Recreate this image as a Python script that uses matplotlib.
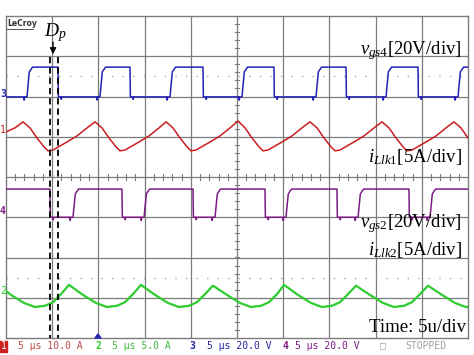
import numpy as np
import matplotlib.pyplot as plt
from matplotlib.patches import Rectangle, Polygon
from matplotlib.lines import Line2D

plt.rcParams['font.family'] = ['Liberation Serif', 'DejaVu Sans']
plt.rcParams['mathtext.fontset'] = 'custom'
plt.rcParams['mathtext.rm'] = 'Liberation Serif'
plt.rcParams['mathtext.it'] = 'Liberation Serif:italic'

W, H = 474, 355

# time in us (5 us/div), amplitude in screen divisions
# ch3: v_gs4 (blue)
vgs4_rise = [2.27, 10.17, 17.75, 25.54, 33.55, 41.13, 48.92]
vgs4_fall = [5.63, 13.42, 21.32, 29.00, 36.80, 44.59]
vgs4_low, vgs4_high = 1.99, 2.73

# ch4: v_gs2 (purple)
vgs2_fall = [4.76, 12.55, 20.24, 28.03, 35.82, 43.61]
vgs2_rise = [7.25, 14.94, 22.62, 30.30, 38.10, 45.89]
vgs2_low, vgs2_high = -1.00, -0.30

# ch1: i_Llk1 (red)
ilk1_t = [0.0, 0.97, 1.84,
          2.60, 3.35, 4.11, 4.55, 5.09, 5.84, 6.60, 7.68, 8.77, 9.63,
          10.39, 11.15, 11.90, 12.34, 12.88, 13.64, 14.39, 15.48, 16.56, 17.32,
          18.07, 18.83, 19.59, 20.02, 20.56, 21.32, 22.08, 23.16, 24.24, 25.11,
          25.87, 26.62, 27.38, 27.81, 28.35, 29.11, 29.87, 30.95, 32.03, 32.90,
          33.66, 34.42, 35.17, 35.61, 36.15, 36.90, 37.66, 38.74, 39.83, 40.69,
          41.45, 42.21, 42.97, 43.40, 43.94, 44.70, 45.45, 46.54, 47.62, 48.48,
          49.24, 50.0]
ilk1_v = [1.12, 1.22, 1.37,
          1.22, 0.97, 0.75, 0.65, 0.67, 0.77, 0.87, 1.02, 1.22, 1.37,
          1.22, 0.97, 0.75, 0.65, 0.67, 0.77, 0.87, 1.02, 1.22, 1.37,
          1.22, 0.97, 0.75, 0.65, 0.67, 0.77, 0.87, 1.02, 1.22, 1.39,
          1.22, 0.97, 0.75, 0.65, 0.67, 0.77, 0.87, 1.02, 1.22, 1.37,
          1.22, 0.97, 0.75, 0.65, 0.67, 0.77, 0.87, 1.02, 1.22, 1.37,
          1.22, 0.97, 0.75, 0.65, 0.67, 0.77, 0.87, 1.02, 1.22, 1.37,
          1.22, 0.97]

# ch2: i_Llk2 (green)
ilk2_t = [0.0, 0.54, 1.95, 3.14, 4.22, 5.09, 5.95, 6.82,
          8.33, 9.74, 10.93, 12.01, 12.88, 13.74, 14.61,
          16.13, 17.53, 18.72, 19.81, 20.67, 21.54, 22.40,
          23.92, 25.32, 26.52, 27.60, 28.46, 29.33, 30.09,
          31.60, 33.01, 34.20, 35.28, 36.15, 37.01, 37.88,
          39.39, 40.80, 41.99, 43.07, 43.94, 44.81, 45.67,
          47.19, 48.59, 49.78, 50.0]
ilk2_v = [-2.83, -2.93, -3.13, -3.23, -3.20, -3.11, -2.91, -2.68,
          -2.93, -3.13, -3.23, -3.20, -3.11, -2.91, -2.68,
          -2.93, -3.13, -3.23, -3.20, -3.11, -2.91, -2.70,
          -2.93, -3.13, -3.23, -3.20, -3.11, -2.91, -2.68,
          -2.93, -3.13, -3.23, -3.20, -3.11, -2.91, -2.70,
          -2.93, -3.13, -3.23, -3.20, -3.11, -2.91, -2.70,
          -2.93, -3.13, -3.23, -3.23]

dp_left, dp_right = 4.76, 5.63


def gate(rises, falls, low, high, start_high):
    ev = sorted([(t, 1) for t in rises] + [(t, 0) for t in falls])
    level = high if start_high else low
    xs, ys = [0.0], [level]
    for t, up in ev:
        if up:
            xs += [t - 0.35, t - 0.3, t - 0.25, t, t + 0.25, t + 0.6]
            ys += [low, low - 0.08, low, low, high - 0.12, high]
            level = high
        else:
            xs += [t, t + 0.04, t + 0.3, t + 0.35, t + 0.4]
            ys += [high, low, low, low - 0.06, low]
            level = low
    xs.append(50.0)
    ys.append(level)
    return xs, ys


def fx(px):
    return px / W


def fy(py):
    return 1 - py / H


fig = plt.figure(figsize=(W / 100, H / 100), dpi=100)
ax = fig.add_axes([6 / W, 17 / H, 462 / W, 322 / H])
ax.set_xlim(0, 50)
ax.set_ylim(-4, 4)
ax.set_xticks([])
ax.set_yticks([])
gc = '#7c7c7c'
for s in ax.spines.values():
    s.set_color(gc)
    s.set_linewidth(1)

for x in np.arange(5, 50, 5):
    ax.axvline(x, color=gc, lw=0.9, zorder=1)
for y in np.arange(-3, 4, 1):
    ax.axhline(y, color=gc, lw=0.9, zorder=1)
for y in [2.5, -2.5]:
    ax.axhline(y, color='#a8a8a8', lw=1, ls=(0, (1, 6.6)), zorder=1)

# minor ticks on the centre lines
for t in np.arange(1, 50, 1):
    ax.plot([t, t], [-0.065, 0.065], color=gc, lw=0.8, zorder=1)
for v in np.arange(-3.8, 4, 0.2):
    ax.plot([24.73, 25.27], [v, v], color=gc, lw=0.8, zorder=1)

bx, by = gate(vgs4_rise, vgs4_fall, vgs4_low, vgs4_high, False)
ax.plot(bx, by, color='#2222b8', lw=1.1, zorder=3)
ax.plot(ilk1_t, ilk1_v, color='#cc1e1e', lw=1.1, zorder=3)
px_, py_ = gate(vgs2_rise, vgs2_fall, vgs2_low, vgs2_high, True)
ax.plot(px_, py_, color='#7c1c84', lw=1.1, zorder=3)
ax.plot(ilk2_t, ilk2_v, color='#2ecc2e', lw=1.6, zorder=3)

for t in [dp_left, dp_right]:
    ax.plot([t, t], [2.98, -4], color='k', lw=1.3, ls=(0, (3.5, 2.2)), zorder=4)
ax.annotate('', xy=(5.09, 2.98), xytext=(5.09, 3.42),
            arrowprops=dict(arrowstyle='-|>', color='k', lw=1, mutation_scale=9),
            zorder=5)

# annotations
fig.text(fx(44), fy(36), r'$D_p$', fontsize=14, ha='left', va='baseline')
fig.text(fx(462), fy(54), r'$v_{gs4}$[20V/div]', fontsize=13.5, ha='right', va='baseline')
fig.text(fx(462), fy(162), r'$i_{Llk1}$[5A/div]', fontsize=13.5, ha='right', va='baseline')
fig.text(fx(462), fy(227), r'$v_{gs2}$[20V/div]', fontsize=13.5, ha='right', va='baseline')
fig.text(fx(462), fy(255), r'$i_{Llk2}$[5A/div]', fontsize=13.5, ha='right', va='baseline')
fig.text(fx(466), fy(332), 'Time: 5u/div', fontsize=13.5, ha='right', va='baseline')

# scope decorations
fig.text(fx(7), fy(24), 'LeCroy', fontsize=5.5, fontweight='bold', color='#333333',
         family='DejaVu Sans', va='center')
fig.add_artist(Line2D([fx(7), fx(33)], [fy(29), fy(29)], color='#333333', lw=0.6))
mono = 'DejaVu Sans Mono'
fig.text(fx(0), fy(94), '3', fontsize=7, color='#2222b8', family=mono, va='center', fontweight='bold')
fig.text(fx(0), fy(130), '1', fontsize=7, color='#cc1e1e', family=mono, va='center')
fig.text(fx(0), fy(211), '4', fontsize=7, color='#7c1c84', family=mono, va='center', fontweight='bold')
fig.text(fx(0), fy(291), '2', fontsize=7, color='#2ecc2e', family=mono, va='center')

fig.add_artist(Rectangle((fx(0), fy(352)), fx(7), 11 / H, color='#cc2020',
                         transform=fig.transFigure))
fig.text(fx(1), fy(346), '1', fontsize=7, color='white', family=mono, va='center')
fig.add_artist(Polygon([[fx(95), fy(338)], [fx(101), fy(338)], [fx(98), fy(334)]],
                       closed=True, color='#2424b4', transform=fig.transFigure))
status = [(18, '5 μs 10.0 A', '#c04848', 'normal'),
          (95, '2', '#2ecc2e', 'bold'),
          (112, '5 μs 5.0 A', '#40b840', 'normal'),
          (189, '3', '#2424a0', 'bold'),
          (207, '5 μs 20.0 V', '#2424a0', 'normal'),
          (283, '4', '#7c1c84', 'bold'),
          (295, '5 μs 20.0 V', '#7c1c84', 'normal'),
          (380, '□', '#a0a0a0', 'normal'),
          (405, 'STOPPED', '#a0a0a0', 'normal')]
for x, s, c, w in status:
    fig.text(fx(x), fy(346), s, fontsize=7, color=c, family=mono, va='center', fontweight=w)

fig.savefig('out.png', dpi=100)
